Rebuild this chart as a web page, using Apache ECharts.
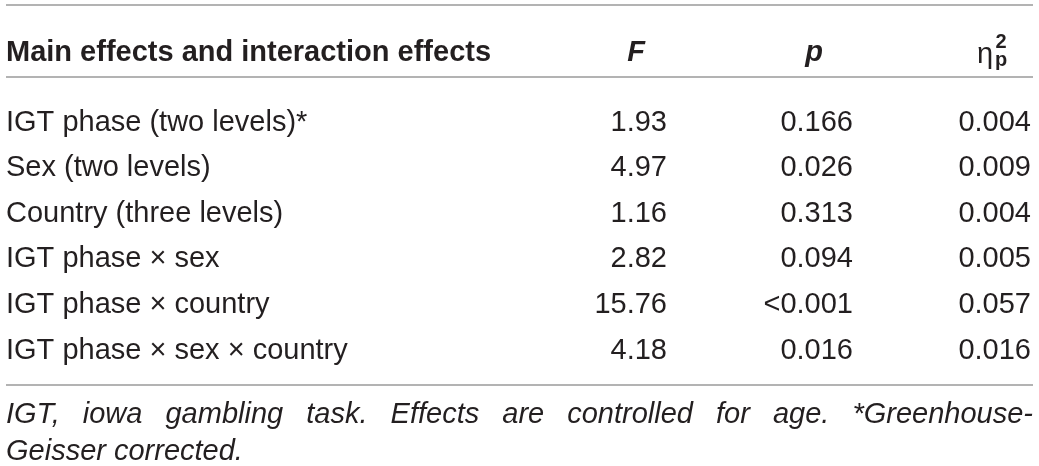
<!DOCTYPE html>
<html><head><meta charset="utf-8">
<script src="https://cdn.jsdelivr.net/npm/echarts@6/dist/echarts.min.js"></script>
<style>html,body{margin:0;padding:0;background:#fff}#c{width:1039px;height:466px}</style>
</head><body><div id="c"></div>
<script>
const header = ["Main effects and interaction effects", "F", "p"];
const effects = ["IGT phase (two levels)*", "Sex (two levels)", "Country (three levels)", "IGT phase \u00d7 sex", "IGT phase \u00d7 country", "IGT phase \u00d7 sex \u00d7 country"];
const Fvals = ["1.93", "4.97", "1.16", "2.82", "15.76", "4.18"];
const pvals = ["0.166", "0.026", "0.313", "0.094", "<0.001", "0.016"];
const etaVals = ["0.004", "0.009", "0.004", "0.005", "0.057", "0.016"];
const footLine1 = "IGT, iowa gambling task. Effects are controlled for age. *Greenhouse-";
const footLine2 = "Geisser corrected.";

const chart = echarts.init(document.getElementById('c'), null, {renderer: 'canvas'});
const FONT = '"Liberation Sans", Arial, Helvetica, sans-serif';
const COL = '#231f20';
const FS = 29;
const g = [];
function txt(s, x, baseline, align, opts) {
  opts = opts || {};
  g.push({type: 'text', x: x, y: baseline, style: {text: s, x: 0, y: 0, fill: COL,
    font: (opts.style || '') + ' ' + (opts.weight || 'normal') + ' ' + (opts.size || FS) + 'px ' + FONT,
    textAlign: align, textVerticalAlign: 'bottom'}});
}
function line(y) {
  g.push({type: 'line', shape: {x1: 6, y1: y, x2: 1033, y2: y}, style: {stroke: '#9a9a9a', lineWidth: 1.6}});
}
line(5); line(77); line(385);
const D = 7;
txt(header[0], 6, 60 + D, 'left', {weight: 'bold'});
txt(header[1], 636, 60 + D, 'center', {weight: 'bold', style: 'italic'});
txt(header[2], 814, 60 + D, 'center', {weight: 'bold', style: 'italic'});
txt('\u03b7', 985, 62 + D, 'center', {});
txt('2', 1001, 48 + 4, 'center', {weight: 'bold', size: 20});
txt('p', 1001, 65 + 5, 'center', {weight: 'bold', size: 20});
for (let i = 0; i < effects.length; i++) {
  const b = 130 + i * 45.6 + D;
  txt(effects[i], 6, b, 'left');
  txt(Fvals[i], 667, b, 'right');
  txt(pvals[i], 853, b, 'right');
  txt(etaVals[i], 1031, b, 'right');
}
const cv = document.createElement('canvas').getContext('2d');
cv.font = 'italic normal ' + FS + 'px ' + FONT;
const words = footLine1.split(' ');
const widths = words.map(w => cv.measureText(w).width);
const total = widths.reduce((a, b) => a + b, 0);
const gap = (1033 - 6 - total) / (words.length - 1);
let x = 6;
words.forEach((w, i) => { txt(w, x, 422 + D, 'left', {style: 'italic'}); x += widths[i] + gap; });
txt(footLine2, 6, 466, 'left', {style: 'italic'});
chart.setOption({animation: false, graphic: g});
</script></body></html>
